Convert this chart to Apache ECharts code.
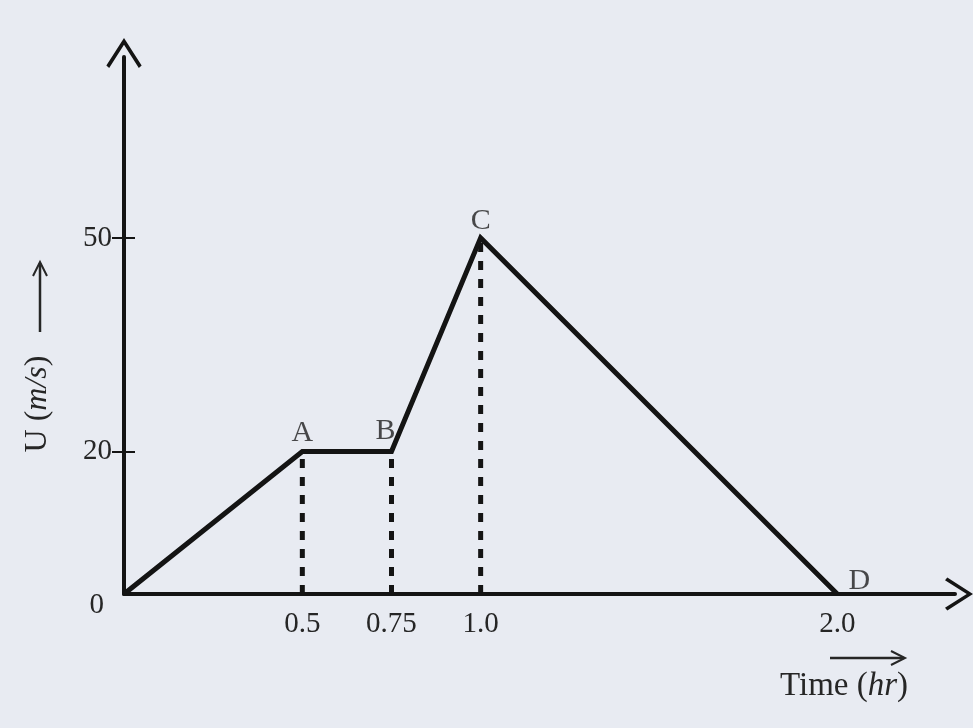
<!DOCTYPE html>
<html>
<head>
<meta charset="utf-8">
<script src="https://cdn.jsdelivr.net/npm/echarts@6/dist/echarts.min.js"></script>
<style>
html,body{margin:0;padding:0;background:#e8ebf2;}
#chart{width:973px;height:728px;}
</style>
</head>
<body>
<div id="chart"></div>
<script>
// Data
const times = [0, 0.5, 0.75, 1.0, 2.0];          // hr
const speeds = [0, 20, 20, 50, 0];              // m/s
const pointNames = ['', 'A', 'B', 'C', 'D'];
const xTickValues = [0.5, 0.75, 1.0, 2.0];
const xTickLabels = ['0.5', '0.75', '1.0', '2.0'];
const yTickValues = [20, 50];
const yTickLabels = ['20', '50'];

const ink = '#141414';
const textInk = '#262626';
const serif = '"Liberation Serif", "DejaVu Serif", serif';
const chevron = 'path://M50,0 L100,78 L92,85 L50,19 L8,85 L0,78 Z';

const labelOffsets = { A: [0, 0], B: [-6, -2], C: [0, 2], D: [22, 6] };

const linePoints = times.map((t, i) => [t, speeds[i]]);

const dropSeries = [];
times.forEach((t, i) => {
  if (pointNames[i] && speeds[i] > 0) {
    dropSeries.push({
      type: 'line',
      data: [[t, 0], [t, speeds[i]]],
      symbol: 'none',
      silent: true,
      z: 1,
      lineStyle: { color: ink, width: 5, type: [9, 9] }
    });
  }
});

const labelData = times.map((t, i) => ({
  value: [t, speeds[i]],
  label: {
    show: !!pointNames[i],
    offset: labelOffsets[pointNames[i]] || [0, 0]
  }
}));

const chart = echarts.init(document.getElementById('chart'));
chart.setOption({
  backgroundColor: '#e8ebf2',
  animation: false,
  grid: { left: 124, right: 18, top: 57, bottom: 134 },
  xAxis: {
    type: 'value',
    min: 0,
    max: 2.33,
    splitLine: { show: false },
    axisLine: {
      onZero: false,
      lineStyle: { color: ink, width: 4 },
      symbol: ['none', chevron],
      symbolSize: [34, 28],
      symbolOffset: [0, 4]
    },
    axisTick: { show: false },
    axisLabel: {
      customValues: xTickValues,
      formatter: v => xTickLabels[xTickValues.indexOf(v)] || '',
      color: textInk,
      fontFamily: serif,
      fontSize: 29,
      margin: 16
    }
  },
  yAxis: [{
    type: 'value',
    min: 0,
    max: 75.4,
    splitLine: { show: false },
    axisLine: {
      onZero: false,
      lineStyle: { color: ink, width: 4 },
      symbol: ['none', chevron],
      symbolSize: [36, 30],
      symbolOffset: [0, 4]
    },
    axisTick: {
      customValues: yTickValues,
      length: 12,
      lineStyle: { color: ink, width: 2 }
    },
    axisLabel: {
      customValues: [0].concat(yTickValues),
      formatter: v => v === 0 ? '{z|0}' : (yTickLabels[yTickValues.indexOf(v)] || ''),
      color: textInk,
      fontFamily: serif,
      fontSize: 29,
      margin: 12,
      rich: {
        z: { fontFamily: serif, fontSize: 29, color: textInk, padding: [22, 8, 0, 0] }
      }
    }
  }, {
    type: 'value',
    min: 0,
    max: 75.4,
    position: 'left',
    splitLine: { show: false },
    axisLine: { show: false },
    axisLabel: { show: false },
    axisTick: {
      customValues: yTickValues,
      inside: true,
      length: 11,
      lineStyle: { color: ink, width: 2 }
    }
  }],
  series: dropSeries.concat([
    {
      type: 'line',
      data: linePoints,
      symbol: 'none',
      z: 3,
      lineStyle: { color: ink, width: 5, join: 'miter' }
    },
    {
      type: 'scatter',
      data: labelData,
      symbolSize: 1,
      itemStyle: { color: 'rgba(0,0,0,0)' },
      z: 4,
      label: {
        position: 'top',
        distance: 3,
        formatter: p => pointNames[p.dataIndex],
        color: '#1e1e1e',
        fontFamily: serif,
        fontSize: 30
      }
    }
  ]),
  graphic: [
    {
      type: 'text',
      left: 780,
      top: 670,
      style: {
        text: '{a|Time (}{b|hr}{a|)}',
        rich: {
          a: { fontFamily: serif, fontSize: 33, fill: textInk },
          b: { fontFamily: serif, fontSize: 33, fontStyle: 'italic', fill: textInk }
        }
      }
    },
    {
      type: 'group',
      children: [
        { type: 'line', shape: { x1: 830, y1: 658, x2: 904, y2: 658 }, style: { stroke: textInk, lineWidth: 2.5 } },
        { type: 'polyline', shape: { points: [[891, 651], [905, 658], [891, 665]] }, style: { stroke: textInk, lineWidth: 2, fill: null } }
      ]
    },
    {
      type: 'text',
      x: 38,
      y: 404,
      rotation: Math.PI / 2,
      style: {
        text: '{a|U (}{b|m/s}{a|)}',
        align: 'center',
        verticalAlign: 'middle',
        rich: {
          a: { fontFamily: serif, fontSize: 32, fill: textInk },
          b: { fontFamily: serif, fontSize: 32, fontStyle: 'italic', fill: textInk }
        }
      }
    },
    {
      type: 'group',
      children: [
        { type: 'line', shape: { x1: 40, y1: 332, x2: 40, y2: 263 }, style: { stroke: textInk, lineWidth: 2.5 } },
        { type: 'polyline', shape: { points: [[33, 276], [40, 262], [47, 276]] }, style: { stroke: textInk, lineWidth: 2, fill: null } }
      ]
    }
  ]
});
</script>
</body>
</html>
